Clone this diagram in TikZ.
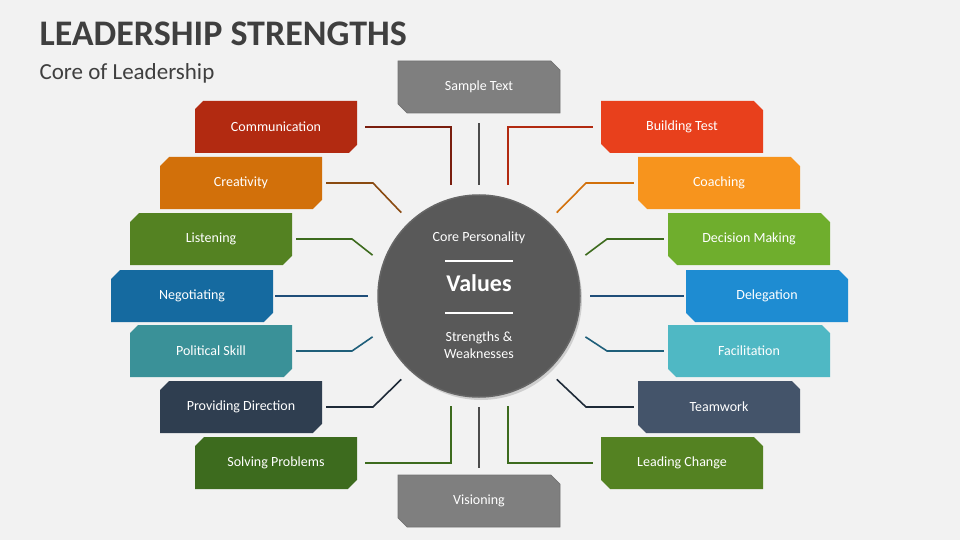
\documentclass[tikz,border=0pt]{standalone}
\usepackage{fontspec}
\setmainfont{Carlito}
\usetikzlibrary{shapes.misc,positioning,calc,shadows}
\definecolor{bgc}{HTML}{F2F2F2}
\definecolor{titlec}{HTML}{3F3F3F}
\definecolor{grayc}{HTML}{7F7F7F}
\definecolor{corec}{HTML}{595959}
\tikzset{
  box/.style={chamfered rectangle,chamfered rectangle xsep=6pt,draw=none,
    minimum width=162pt,minimum height=52pt,inner sep=0pt,text=white,
    font=\fontsize{14}{16}\selectfont},
  lbox/.style={box,chamfered rectangle corners={north west,south east}},
  rbox/.style={box,chamfered rectangle corners={north east,south west}},
  gbox/.style={rbox,fill=grayc,draw=black!55,line width=0.8pt},
  link/.style={line width=1.6pt}
}
\begin{document}
\begin{tikzpicture}[x=1pt,y=-1pt]
  \fill[bgc] (0,0) rectangle (960,540);
  \useasboundingbox (0,0) rectangle (960,540);
  \node[anchor=west,text=titlec,font=\fontsize{36}{40}\selectfont\bfseries] (title) at (36,34) {LEADERSHIP STRENGTHS};
  \node[anchor=west,text=titlec,font=\fontsize{23}{26}\selectfont] (sub) at (36,73) {Core of Leadership};

  % centre
  \node[circle,minimum size=202pt,fill=corec,draw=black!60,line width=1.5pt,
    drop shadow={shadow xshift=2pt,shadow yshift=-3pt,opacity=0.3}] (core) at (479,296) {};
  \node[text=white,font=\fontsize{14}{16}\selectfont] (cp) at (479,238) {Core Personality};
  \node[text=white,font=\fontsize{24}{27}\selectfont\bfseries] (val) at (479,283) {Values};
  \node[text=white,font=\fontsize{14}{17}\selectfont,align=center] (sw) at (479,345) {Strengths \&\\Weaknesses};
  \draw[white,line width=1.6pt] (445,261) -- (513,261);
  \draw[white,line width=1.6pt] (445,313) -- (513,313);

  % boxes
  \foreach \n/\t/\c/\x/\y in {comm/Communication/B22A11/276/127,
      crea/Creativity/D2700A/241/183, list/Listening/548222/211/239,
      nego/Negotiating/156AA0/192/296, poli/Political Skill/3A9198/211/351,
      prov/Providing Direction/2F3E50/241/407, solv/Solving Problems/3D6B1E/276/463}{
    \definecolor{bc}{HTML}{\c}
    \node[lbox,fill=bc] (\n) at (\x,\y) {\t};
  }
  \foreach \n/\t/\c/\x/\y in {buil/Building Test/E8401C/682/127,
      coac/Coaching/F7941D/719/183, deci/Decision Making/6FAE2D/749/239,
      dele/Delegation/1E8CD2/767/296, faci/Facilitation/4FB8C4/749/351,
      team/Teamwork/44546A/719/407, lead/Leading Change/548222/682/463}{
    \definecolor{bc}{HTML}{\c}
    \node[rbox,fill=bc] (\n) at (\x,\y) {\t};
  }
  \node[gbox] (samp) at (479,87) {Sample Text};
  \node[gbox] (visi) at (479,501) {Visioning};

  % connectors (y runs down, so angles turn clockwise)
  \foreach \n/\c/\a/\bx in {crea/8A4A10/227/373, list/3D6B1E/201/352, poli/1F5F7A/159/352, prov/1E2A38/133/373}{
    \definecolor{lc}{HTML}{\c}
    \coordinate (b) at (\bx,0 |- \n.east);
    \draw[link,lc] ($(\n.east)+(4,0)$) -- (b) -- ($(core)+(\a:114)$);
  }
  \foreach \n/\c/\a/\bx in {coac/D2700A/-47/586, deci/3D6B1E/-21/607, faci/1F5F7A/21/607, team/1E2A38/47/586}{
    \definecolor{lc}{HTML}{\c}
    \coordinate (b) at (\bx,0 |- \n.west);
    \draw[link,lc] ($(\n.west)+(-4,0)$) -- (b) -- ($(core)+(\a:114)$);
  }
  \definecolor{lc}{HTML}{1F4E79}
  \draw[link,lc] ($(nego.east)+(2,0)$) -- ($(core.west)+(-9,0)$);
  \draw[link,lc] ($(dele.west)+(-2,0)$) -- ($(core.east)+(9,0)$);
  \definecolor{lc}{HTML}{7A1E0E}
  \draw[link,lc] ($(comm.east)+(8,0)$) -| (451,185);
  \definecolor{lc}{HTML}{B22A11}
  \draw[link,lc] ($(buil.west)+(-8,0)$) -| (508,185);
  \definecolor{lc}{HTML}{3D6B1E}
  \draw[link,lc] ($(solv.east)+(8,0)$) -| (451,406);
  \draw[link,lc] ($(lead.west)+(-8,0)$) -| (508,406);
  \draw[link,black!70] ($(samp.south)+(0,10)$) -- (479,185);
  \draw[link,black!70] ($(visi.north)+(0,-7)$) -- (479,407);
\end{tikzpicture}
\end{document}
